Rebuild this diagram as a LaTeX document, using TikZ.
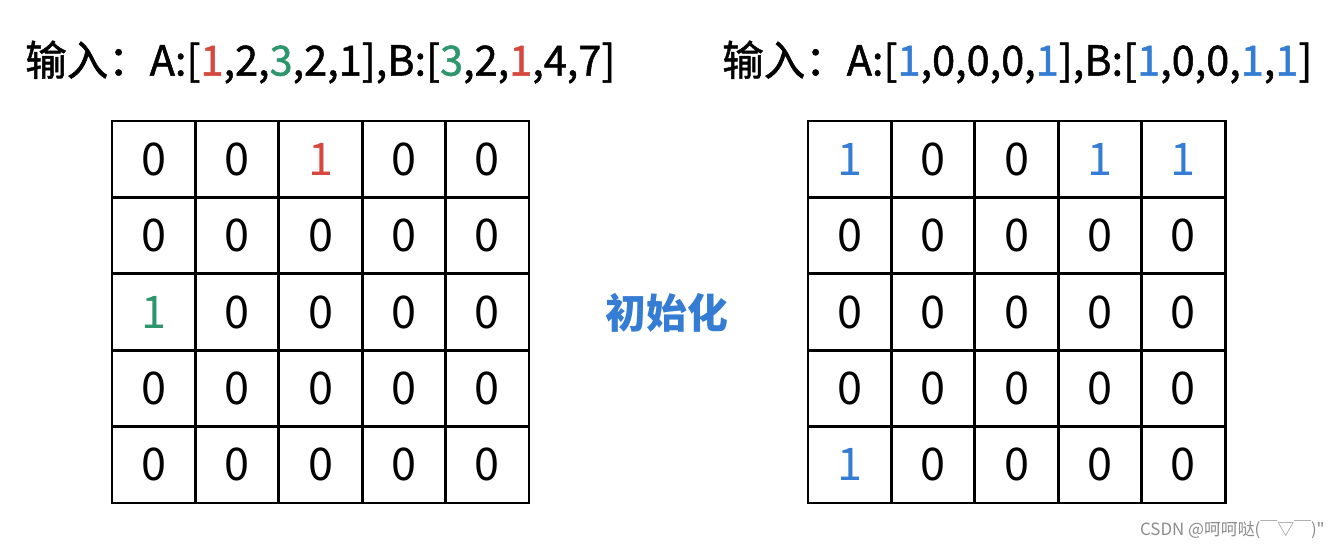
\documentclass[tikz,border=0pt]{standalone}
\usepackage{fontspec}
\setmainfont{Noto Sans CJK SC}
\newfontfamily\headfont[FakeBold=1.2]{Noto Sans CJK SC}
\newfontfamily\markfont{Noto Sans CJK SC}
\usetikzlibrary{positioning}
\definecolor{redA}{RGB}{214,72,62}
\definecolor{greenA}{RGB}{46,150,108}
\definecolor{blueA}{RGB}{52,124,212}
\newcommand\redone{\textcolor{redA}{1}}
\newcommand\greenone{\textcolor{greenA}{1}}
\newcommand\blueone{\textcolor{blueA}{1}}
\newcommand\redthree{\textcolor{greenA}{3}}
\tikzset{
  cell/.style={draw, line width=2.1pt, minimum width=2.085cm, minimum height=1.91cm,
    inner sep=0pt, font=\fontsize{32}{32}\selectfont},
  heading/.style={anchor=west, inner sep=0pt, font=\headfont\fontsize{29.5}{29.5}\selectfont},
}
\begin{document}
\begin{tikzpicture}[x=0.025cm,y=-0.025cm]
\useasboundingbox (0,0) rectangle (1338,553);
% headings
\node[heading] (inL) at (25,62)
  {输入：A:[\redone,2,\redthree,2,1],B:[\redthree,2,\redone,4,7]};
\node[heading] (inR) at (722,62)
  {输入：A:[\blueone,0,0,0,\blueone],B:[\blueone,0,0,\blueone,\blueone]};

% left grid
\foreach \vals [count=\r] in {{0,0,\redone,0,0},{0,0,0,0,0},{\greenone,0,0,0,0},{0,0,0,0,0},{0,0,0,0,0}}
  \foreach \v [count=\c] in \vals
    \node[cell] (L\r\c) at (70.3+83.4*\c, 82.8+76.4*\r) {\v};

% right grid
\foreach \vals [count=\r] in {{\blueone,0,0,\blueone,\blueone},{0,0,0,0,0},{0,0,0,0,0},{0,0,0,0,0},{\blueone,0,0,0,0}}
  \foreach \v [count=\c] in \vals
    \node[cell] (R\r\c) at (766.3+83.4*\c, 82.8+76.4*\r) {\v};

\node[font=\fontsize{29}{29}\selectfont\bfseries, text=blueA] (init) at (667,313) {初始化};

\node[anchor=east, inner sep=0pt, text=black!45, font=\markfont\fontsize{12}{12}\selectfont] (mark) at (1325,530)
  {CSDN @呵呵哒(￣▽￣)"};
\end{tikzpicture}
\end{document}
